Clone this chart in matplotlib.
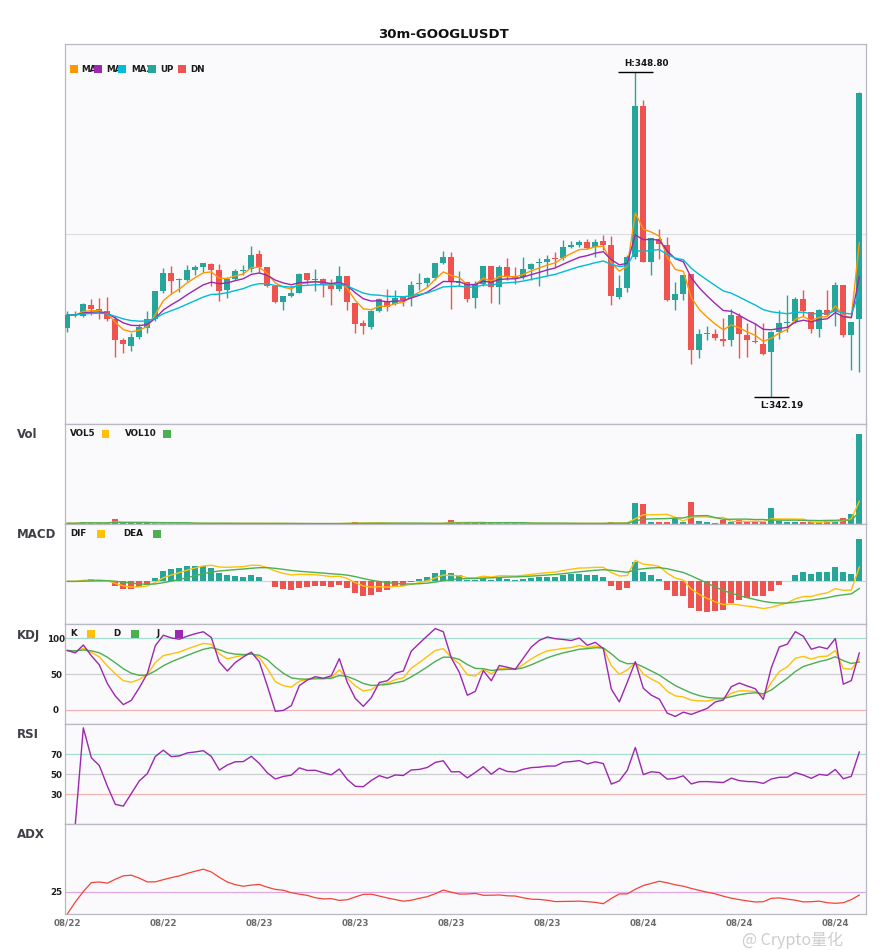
import numpy as np
import pandas as pd
import matplotlib
matplotlib.use('Agg')
import matplotlib.pyplot as plt
from matplotlib.patches import Rectangle
from matplotlib.transforms import Bbox

symbol = "GOOGLUSDT"
interval = "30m"
start_time = "2025-08-22 12:00"

opens = [343.60, 343.87, 343.84, 344.06, 343.98, 343.94, 343.77, 343.35, 343.23, 343.41,
         343.60, 343.77, 344.35, 344.72, 344.56, 344.57, 344.77, 344.84, 344.90, 344.77,
         344.37, 344.59, 344.75, 344.79, 345.10, 344.84, 344.45, 344.13, 344.25, 344.31,
         344.72, 344.56, 344.59, 344.44, 344.39, 344.65, 344.10, 343.69, 343.62, 343.93,
         344.15, 344.08, 344.22, 344.20, 344.48, 344.50, 344.61, 344.92, 345.04, 344.51,
         344.52, 344.20, 344.49, 344.86, 344.42, 344.84, 344.65, 344.64, 344.80, 344.92,
         344.94, 345.02, 345.01, 345.25, 345.28, 345.34, 345.24, 345.36, 345.28, 344.23,
         344.41, 345.03, 348.10, 344.94, 345.40, 345.28, 344.17, 344.29, 344.69, 343.14,
         343.47, 343.48, 343.37, 343.34, 343.84, 343.46, 343.32, 343.27, 343.11, 343.52,
         343.70, 343.73, 344.19, 343.92, 343.57, 343.96, 343.93, 344.47, 343.46, 343.77]
highs = [343.93, 343.94, 344.11, 344.19, 344.20, 344.22, 343.83, 343.39, 343.49, 343.68,
         343.93, 344.35, 344.81, 344.86, 344.62, 344.88, 344.88, 344.91, 344.92, 344.89,
         344.64, 344.79, 344.88, 345.26, 345.18, 344.84, 344.45, 344.25, 344.44, 344.71,
         344.72, 344.79, 344.61, 344.59, 344.86, 344.65, 344.10, 343.75, 343.96, 344.20,
         344.38, 344.37, 344.23, 344.54, 344.72, 344.64, 344.92, 345.15, 345.13, 344.75,
         344.53, 344.54, 344.86, 344.86, 344.88, 345.01, 344.84, 345.03, 344.91, 345.01,
         345.08, 345.13, 345.38, 345.37, 345.38, 345.40, 345.40, 345.49, 345.47, 344.67,
         345.08, 348.80, 348.23, 345.43, 345.61, 345.45, 344.52, 344.67, 344.69, 343.58,
         343.64, 343.58, 343.80, 343.98, 343.90, 343.70, 343.70, 343.70, 343.53, 343.95,
         344.27, 344.23, 344.37, 343.92, 343.98, 344.37, 344.52, 344.47, 343.71, 348.39]
lows = [343.52, 343.81, 343.81, 343.86, 343.77, 343.74, 343.01, 343.08, 343.12, 343.37,
        343.50, 343.74, 344.31, 344.28, 344.33, 344.54, 344.67, 344.74, 344.44, 344.15,
        344.20, 344.57, 344.67, 344.74, 344.71, 344.42, 344.11, 343.95, 344.23, 344.30,
        344.49, 344.35, 344.22, 344.06, 344.35, 343.96, 343.50, 343.48, 343.57, 343.91,
        343.93, 344.06, 344.04, 344.04, 344.37, 344.42, 344.57, 344.89, 343.98, 344.44,
        344.12, 344.01, 344.44, 344.11, 344.08, 344.57, 344.48, 344.59, 344.57, 344.44,
        344.67, 344.84, 344.98, 345.22, 345.25, 345.20, 345.03, 345.18, 344.06, 344.19,
        344.33, 345.00, 344.93, 344.67, 345.00, 344.15, 343.96, 344.17, 342.87, 342.99,
        343.35, 343.34, 343.22, 343.23, 342.99, 343.01, 343.29, 343.05, 342.19, 343.37,
        343.52, 343.70, 343.84, 343.50, 343.41, 343.84, 343.64, 343.42, 342.73, 342.70]
closes = [343.86, 343.85, 344.08, 343.98, 343.94, 343.77, 343.35, 343.27, 343.42, 343.62,
          343.77, 344.35, 344.72, 344.55, 344.59, 344.77, 344.83, 344.91, 344.77, 344.35,
          344.59, 344.76, 344.77, 345.08, 344.84, 344.45, 344.13, 344.25, 344.31, 344.69,
          344.57, 344.58, 344.47, 344.38, 344.65, 344.13, 343.67, 343.64, 343.93, 344.18,
          344.03, 344.20, 344.17, 344.47, 344.50, 344.61, 344.92, 345.03, 344.52, 344.53,
          344.19, 344.49, 344.86, 344.42, 344.84, 344.64, 344.61, 344.79, 344.90, 344.93,
          345.00, 345.00, 345.24, 345.28, 345.34, 345.22, 345.34, 345.28, 344.25, 344.41,
          345.04, 348.10, 344.94, 345.43, 345.30, 344.17, 344.29, 344.67, 343.15, 343.48,
          343.49, 343.40, 343.32, 343.86, 343.48, 343.34, 343.31, 343.07, 343.52, 343.70,
          343.71, 344.19, 343.93, 343.57, 343.96, 343.86, 344.47, 343.46, 343.71, 348.37]
volumes = [8, 6, 23, 10, 9, 10, 47, 12, 10, 9,
           8, 9, 10, 8, 6, 7, 6, 5, 6, 9,
           7, 5, 4, 8, 6, 5, 6, 4, 3, 5,
           3, 3, 4, 5, 6, 14, 16, 9, 10, 8,
           6, 5, 4, 7, 5, 4, 8, 10, 45, 8,
           10, 9, 12, 14, 11, 9, 6, 8, 7, 6,
           6, 5, 9, 5, 5, 6, 5, 8, 23, 12,
           10, 213, 203, 23, 23, 23, 60, 17, 223, 33,
           23, 13, 37, 23, 37, 20, 20, 20, 163, 30,
           17, 17, 17, 20, 17, 43, 27, 63, 103, 903]

UP = '#26A69A'
DN = '#EF5350'
C_MA5, C_MA10, C_MA20 = '#FF9800', '#9C27B0', '#00BCD4'
C_Y, C_G, C_P = '#FFC107', '#4CAF50', '#9C27B0'
FACE = '#FAFAFC'
SPINE = '#B8B8C2'

df = pd.DataFrame(dict(open=opens, high=highs, low=lows, close=closes, volume=volumes))
times = pd.date_range(start_time, periods=len(df), freq='30min')
n = len(df)
x = np.arange(n)
c = df['close']

# moving averages (exponential)
ema5 = c.ewm(span=5, adjust=False).mean()
ema10 = c.ewm(span=10, adjust=False).mean()
ema20 = c.ewm(span=20, adjust=False).mean()
vol5 = df['volume'].rolling(5, min_periods=1).mean()
vol10 = df['volume'].rolling(10, min_periods=1).mean()
# MACD
dif = c.ewm(span=12, adjust=False).mean() - c.ewm(span=26, adjust=False).mean()
dea = dif.ewm(span=9, adjust=False).mean()
hist = 2 * (dif - dea)
# KDJ
lown = df['low'].rolling(9, min_periods=1).min()
highn = df['high'].rolling(9, min_periods=1).max()
rsv = (c - lown) / (highn - lown) * 100
K = rsv.ewm(com=2, adjust=False).mean()
D = K.ewm(com=2, adjust=False).mean()
J = 3 * K - 2 * D
# RSI
delta = c.diff()
gain = delta.clip(lower=0)
loss = (-delta).clip(lower=0)
ag = gain.ewm(com=13).mean()
al = loss.ewm(com=13).mean()
rsi = 100 * ag / (ag + al)
# ADX
h, l = df['high'], df['low']
pc = c.shift(1)
tr = pd.concat([h - l, (h - pc).abs(), (l - pc).abs()], axis=1).max(axis=1)
up_move = h.diff()
dn_move = -l.diff()
pdm = np.where((up_move > dn_move) & (up_move > 0), up_move, 0.0)
mdm = np.where((dn_move > up_move) & (dn_move > 0), dn_move, 0.0)
atr = tr.ewm(span=16, adjust=False).mean()
pdi = 100 * pd.Series(pdm).ewm(span=16, adjust=False).mean() / atr
mdi = 100 * pd.Series(mdm).ewm(span=16, adjust=False).mean() / atr
dx = (100 * (pdi - mdi).abs() / (pdi + mdi)).fillna(0)
adx = dx.ewm(span=14, adjust=False).mean()

W, HP = 885, 950
fig = plt.figure(figsize=(W / 100, HP / 100), dpi=100)
fig.patch.set_facecolor('white')

def rect(lft, top, rgt, bot):
    return [lft / W, 1 - bot / HP, (rgt - lft) / W, (bot - top) / HP]

LX, RX = 65, 865.7
ax_main = fig.add_axes(rect(LX, 44, RX, 424))
ax_vol = fig.add_axes(rect(LX, 424, RX, 524), sharex=ax_main)
ax_macd = fig.add_axes(rect(LX, 524, RX, 624), sharex=ax_main)
ax_kdj = fig.add_axes(rect(LX, 624, RX, 724), sharex=ax_main)
ax_rsi = fig.add_axes(rect(LX, 724, RX, 824), sharex=ax_main)
ax_adx = fig.add_axes(rect(LX, 824, RX, 914), sharex=ax_main)
axes = [ax_main, ax_vol, ax_macd, ax_kdj, ax_rsi, ax_adx]
for ax in axes:
    ax.set_facecolor(FACE)
    for s in ax.spines.values():
        s.set_color(SPINE)
        s.set_linewidth(0.9)
    ax.tick_params(axis='both', length=0, labelsize=6.3, pad=2)
    ax.tick_params(axis='x', labelbottom=False)
    ax.set_yticks([])

# ---- candles
colors = np.where(df['close'] >= df['open'], UP, DN)
body_lo = np.minimum(df['open'], df['close'])
body_h = np.maximum((df['close'] - df['open']).abs(), 0.012)
ax_main.vlines(x, df['low'], df['high'], colors=colors, linewidth=1.0, zorder=2)
ax_main.bar(x, body_h, bottom=body_lo, width=0.75, color=colors, zorder=3)
ax_main.plot(x, ema5, color=C_MA5, lw=1.0, zorder=4)
ax_main.plot(x, ema10, color=C_MA10, lw=1.0, zorder=4)
ax_main.plot(x, ema20, color=C_MA20, lw=1.0, zorder=4)
hi_i = int(df['high'].idxmax()); lo_i = int(df['low'].idxmin())
hv, lv = df['high'].max(), df['low'].min()
rng = hv - lv
ax_main.set_ylim(lv - 0.083 * rng, hv + 0.086 * rng)
ax_main.axhline((hv + lv) / 2, color='#DCDCE2', lw=0.8, zorder=1)
ax_main.hlines([hv], hi_i - 2.2, hi_i + 2.2, color='black', lw=1.0, zorder=5)
ax_main.hlines([lv], lo_i - 2.2, lo_i + 2.2, color='black', lw=1.0, zorder=5)
ax_main.annotate(f"H:{hv:.2f}", (hi_i + 1.4, hv), xytext=(0, 2.5), textcoords='offset points',
                 ha='center', va='bottom', fontsize=6.3, fontweight='bold', color='#111')
ax_main.annotate(f"L:{lv:.2f}", (lo_i + 1.3, lv), xytext=(0, -3), textcoords='offset points',
                 ha='center', va='top', fontsize=6.3, fontweight='bold', color='#111')

# ---- volume
ax_vol.bar(x, df['volume'], width=0.75, color=colors, zorder=2)
ax_vol.plot(x, vol5, color=C_Y, lw=1.0, zorder=3)
ax_vol.plot(x, vol10, color=C_G, lw=1.0, zorder=3)
ax_vol.set_ylim(0, df['volume'].max() * 1.11)

# ---- MACD
hcol = np.where(hist >= 0, UP, DN)
ax_macd.axhline(0, color='#CFCFD6', lw=0.8, zorder=1)
ax_macd.bar(x, hist, width=0.75, color=hcol, zorder=2)
ax_macd.plot(x, dif, color=C_Y, lw=1.0, zorder=3)
ax_macd.plot(x, dea, color=C_G, lw=1.0, zorder=3)
mlo = min(dif.min(), dea.min(), hist.min()); mhi = max(dif.max(), dea.max(), hist.max())
mr = mhi - mlo
ax_macd.set_ylim(mlo - 0.17 * mr, mhi + 0.2 * mr)

# ---- KDJ
for v, col in [(100, '#A6DCCD'), (50, '#CDCDD2'), (0, '#F4B3B3')]:
    ax_kdj.axhline(v, color=col, lw=0.9, zorder=1)
ax_kdj.plot(x, K, color=C_Y, lw=1.0, zorder=3)
ax_kdj.plot(x, D, color=C_G, lw=1.0, zorder=3)
ax_kdj.plot(x, J, color=C_P, lw=1.0, zorder=3)
ax_kdj.set_ylim(-20, 120)
ax_kdj.set_yticks([0, 50, 100])

# ---- RSI
for v, col in [(70, '#A6DCCD'), (50, '#CDCDD2'), (30, '#F4B3B3')]:
    ax_rsi.axhline(v, color=col, lw=0.9, zorder=1)
ax_rsi.plot(x, rsi, color=C_P, lw=1.0, zorder=3)
ax_rsi.set_ylim(0, 100)
ax_rsi.set_yticks([30, 50, 70])

# ---- ADX
ax_adx.axhline(25, color='#DDA8E4', lw=0.9, zorder=1)
ax_adx.plot(x, adx, color='#F44336', lw=0.9, zorder=3)
ax_adx.set_ylim(0, 100)
ax_adx.set_yticks([25])

for ax in (ax_kdj, ax_rsi, ax_adx):
    ax.tick_params(axis='y', pad=6.5)
    for t in ax.get_yticklabels():
        t.set_horizontalalignment('center')
        t.set_fontweight('bold')
        t.set_color('#1E1E1E')

ax_main.set_xlim(-0.29, 99.8)
tick_idx = [i for i in range(n) if i % 12 == 0]
ax_adx.set_xticks(tick_idx)
ax_adx.set_xticklabels([times[i].strftime('%m/%d') for i in tick_idx])
ax_adx.tick_params(axis='x', labelbottom=True, pad=3.5, labelsize=6.3, labelcolor='#6A6A70')
for t in ax_adx.get_xticklabels():
    t.set_fontweight('bold')

# ---- figure texts / legends
def ftext(px, py, s, clip_to=None, **kw):
    t = fig.text(px / W, 1 - py / HP, s, **kw)
    if clip_to is not None:
        t.set_clip_box(Bbox.from_extents(px - 1, 0, clip_to, HP))
        t.set_clip_on(True)
    return t

def fsq(px, py, color, size=7.6):
    fig.add_artist(Rectangle((px / W, 1 - (py + size / 2) / HP), size / W, size / HP,
                             transform=fig.transFigure, facecolor=color, edgecolor='none', zorder=6))

ftext(443, 34, f"{interval}-{symbol}", ha='center', va='center', fontsize=9.5, fontweight='bold', color='#111')

for lbl, py in [("Vol", 435), ("MACD", 535), ("KDJ", 635), ("RSI", 735), ("ADX", 835)]:
    ftext(17, py, lbl, ha='left', va='center', fontsize=8.5, fontweight='bold', color='#3E3E44')

leg_kw = dict(ha='left', va='center', fontsize=6.3, fontweight='bold', color='#1A1A1A', zorder=3)
main_leg = [("MA5", C_MA5, 70), ("MA10", C_MA10, 94.3), ("MA20", C_MA20, 118.3), ("UP", UP, 148.3), ("DN", DN, 178.3)]
for k, (lbl, col, px) in enumerate(main_leg):
    fsq(px, 69, col)
    nxt = main_leg[k + 1][2] if k + 1 < len(main_leg) else None
    tx = px + 11.5 if k != 2 else px + 13
    ftext(tx, 69, lbl, clip_to=nxt, **leg_kw)

for lbl, col, tx, sx in [("VOL5", C_Y, 70, 101.5), ("VOL10", C_G, 125, 163)]:
    ftext(tx, 433.7, lbl, **leg_kw); fsq(sx, 433.7, col)
for lbl, col, tx, sx in [("DIF", C_Y, 70, 97), ("DEA", C_G, 123.3, 153)]:
    ftext(tx, 533.7, lbl, **leg_kw); fsq(sx, 533.7, col)
for lbl, col, tx, sx in [("K", C_Y, 70, 87.3), ("D", C_G, 113.3, 131), ("J", C_P, 156.7, 175.3)]:
    ftext(tx, 633.7, lbl, **leg_kw); fsq(sx, 633.7, col)

# watermark
fig.text(742 / W, 1 - 940 / HP, "@ Crypto量化", ha='left', va='center', fontsize=11.5,
         color='#9A9A9A', alpha=0.5, family=['Noto Sans CJK SC', 'DejaVu Sans'], zorder=10)

fig.savefig('out.png', dpi=100, facecolor='white')
